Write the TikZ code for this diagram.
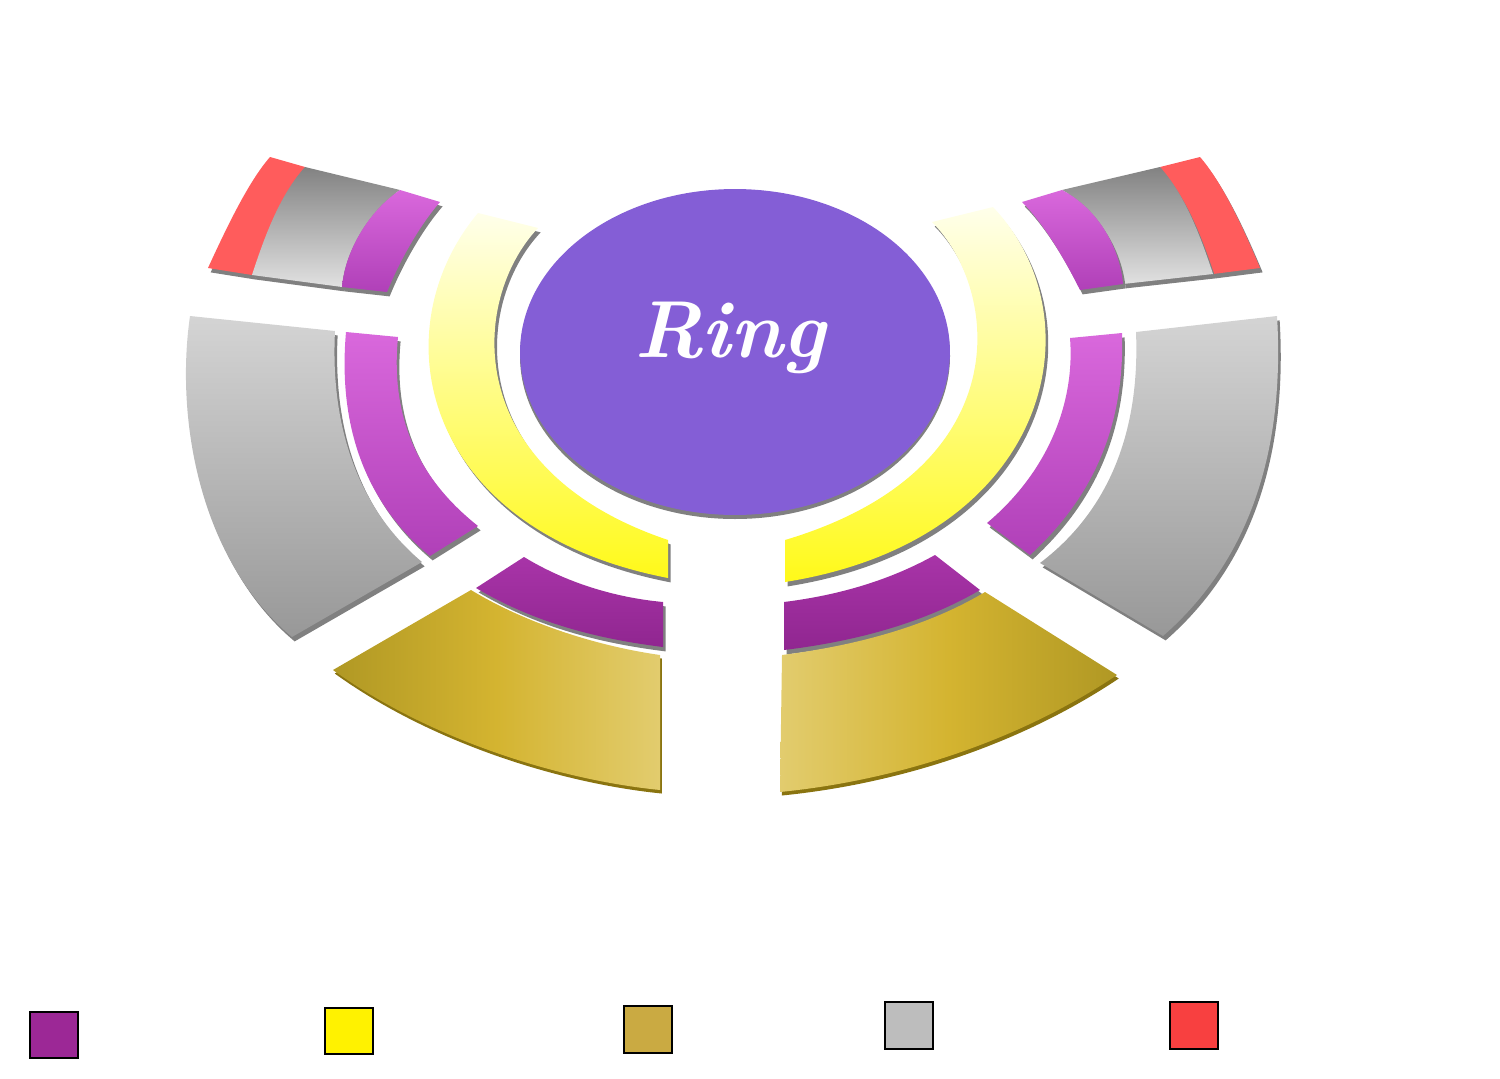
\documentclass[tikz,border=0pt]{standalone}
\usetikzlibrary{shadings,shapes.geometric}
\definecolor{ringc}{HTML}{845ED6}
\definecolor{shad}{HTML}{808080}
\definecolor{goldshad}{HTML}{8A7410}
\tikzset{
 sh/.style={preaction={fill=shad, transform canvas={xshift=1.5pt,yshift=-2.5pt}}},
 gsh/.style={preaction={fill=goldshad, transform canvas={xshift=1pt,yshift=-2pt}}},
 yel/.style={sh, top color=yellow!8, bottom color=yellow!95!orange!90!white},
 mag/.style={sh, top color={rgb,255:red,217;green,104;blue,220}, bottom color={rgb,255:red,176;green,64;blue,184}},
 dpur/.style={sh, top color={rgb,255:red,168;green,52;blue,168}, bottom color={rgb,255:red,144;green,38;blue,144}},
 goldl/.style={gsh, left color={rgb,255:red,176;green,152;blue,36}, right color={rgb,255:red,226;green,204;blue,110}, middle color={rgb,255:red,212;green,180;blue,48}},
 goldr/.style={gsh, right color={rgb,255:red,176;green,152;blue,36}, left color={rgb,255:red,226;green,204;blue,110}, middle color={rgb,255:red,212;green,180;blue,48}},
 gbig/.style={sh, top color={rgb,255:red,212;green,212;blue,212}, bottom color={rgb,255:red,152;green,152;blue,152}},
 gsmall/.style={sh, top color={rgb,255:red,130;green,130;blue,130}, bottom color={rgb,255:red,225;green,225;blue,225}},
 redb/.style={sh, fill={rgb,255:red,255;green,92;blue,92}},
 leg/.style={draw=black, line width=0.6pt}
}
\begin{document}
\begin{tikzpicture}[x=0.02cm,y=-0.02cm]
\useasboundingbox (0,0) rectangle (1500,1078);
% ring
\fill[shad] (735,356) ellipse [x radius=215, y radius=163];
\node[ellipse, fill=ringc, minimum width=8.6cm, minimum height=6.52cm, inner sep=0pt] (ring) at (735,352) {};
\node[text=white, font=\fontsize{46}{50}\selectfont\bfseries\itshape] (ringlabel) at (730,338) {Ring};
% yellow
\path[yel] (478,213) -- (538,228) .. controls (470,300) and (460,470) .. (668,540) -- (668,578) .. controls (420,530) and (380,330) .. (478,213) -- cycle;
\path[yel] (993,207) -- (932,222) .. controls (1000,290) and (1020,470) .. (785,540) -- (785,582) .. controls (1050,540) and (1100,320) .. (993,207) -- cycle;
% magenta sides
\path[mag] (346,332) -- (398,337) .. controls (390,420) and (420,480) .. (478,526) -- (430,556) .. controls (350,490) and (340,400) .. (346,332) -- cycle;
\path[mag] (1070,338) -- (1122,333) .. controls (1125,430) and (1090,500) .. (1030,555) -- (987,523) .. controls (1050,470) and (1075,400) .. (1070,338) -- cycle;
% dark purple bottom
\path[dpur] (524,557) .. controls (570,585) and (620,598) .. (663,602) -- (663,647) .. controls (590,638) and (530,620) .. (476,588) -- cycle;
\path[dpur] (935,555) -- (980,590) .. controls (920,625) and (850,642) .. (784,650) -- (784,602) .. controls (840,595) and (890,580) .. (935,555) -- cycle;
% gold
\path[goldl] (471,590) -- (333,670) .. controls (430,740) and (560,780) .. (660,790) -- (660,655) .. controls (590,645) and (520,620) .. (471,590) -- cycle;
\path[goldr] (985,592) -- (1117,675) .. controls (1020,740) and (900,780) .. (780,792) -- (782,655) .. controls (860,645) and (930,625) .. (985,592) -- cycle;
% big gray
\path[gbig] (190,316) -- (335,331) .. controls (330,430) and (360,510) .. (422,562) -- (292,637) .. controls (200,560) and (175,420) .. (190,316) -- cycle;
\path[gbig] (1136,332) -- (1277,316) .. controls (1285,450) and (1250,560) .. (1163,636) -- (1040,563) .. controls (1110,510) and (1140,430) .. (1136,332) -- cycle;
% top left block
\path[redb] (270,157) -- (305,167) -- (252,275) -- (208,268) .. controls (230,220) and (250,180) .. (270,157) -- cycle;
\path[gsmall] (305,167) -- (400,190) .. controls (370,210) and (345,250) .. (342,287) -- (252,275) .. controls (265,235) and (280,195) .. (305,167) -- cycle;
\path[mag] (400,190) -- (440,202) .. controls (420,225) and (400,260) .. (387,292) -- (342,287) .. controls (345,250) and (370,210) .. (400,190) -- cycle;
% top right block
\path[redb] (1200,157) -- (1160,167) -- (1213,274) -- (1260,268) .. controls (1240,220) and (1220,180) .. (1200,157) -- cycle;
\path[gsmall] (1160,167) -- (1062,190) .. controls (1100,210) and (1120,250) .. (1123,284) -- (1213,274) .. controls (1200,235) and (1185,195) .. (1160,167) -- cycle;
\path[mag] (1062,190) -- (1022,202) .. controls (1045,225) and (1065,260) .. (1080,290) -- (1123,284) .. controls (1120,250) and (1100,210) .. (1062,190) -- cycle;
% legend
\fill[leg, fill={rgb,255:red,156;green,40;blue,150}] (30,1012) rectangle (78,1058);
\fill[leg, fill={rgb,255:red,255;green,242;blue,0}] (325,1008) rectangle (373,1054);
\fill[leg, fill={rgb,255:red,202;green,170;blue,66}] (624,1006) rectangle (672,1053);
\fill[leg, fill={rgb,255:red,189;green,189;blue,189}] (885,1002) rectangle (933,1049);
\fill[leg, fill={rgb,255:red,248;green,64;blue,64}] (1170,1002) rectangle (1218,1049);
\end{tikzpicture}
\end{document}
